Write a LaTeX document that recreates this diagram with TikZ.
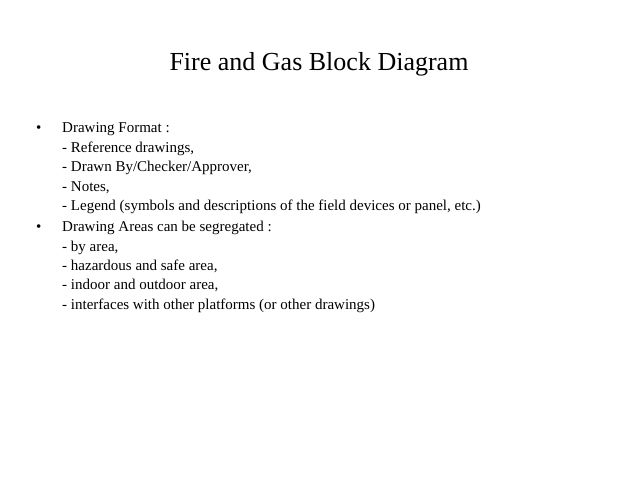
\documentclass[tikz,border=0pt]{standalone}
\usepackage{fontspec}
\setmainfont{Liberation Serif}
\begin{document}
\begin{tikzpicture}[x=1pt,y=-1pt,
  body/.style={anchor=base west,inner sep=0pt,font=\fontsize{15}{18}\selectfont}]
\useasboundingbox (0,0) rectangle (638,478);
\node[anchor=base,inner sep=0pt,font=\fontsize{26}{30}\selectfont] (title) at (319,71) {Fire and Gas Block Diagram};
\node[body] (b1) at (36,133) {•};
\node[body] (l1) at (62,133) {Drawing Format :};
\node[body] (l2) at (62,153) {- Reference drawings,};
\node[body] (l3) at (62,172) {- Drawn By/Checker/Approver,};
\node[body] (l4) at (62,192) {- Notes,};
\node[body] (l5) at (62,211) {- Legend (symbols and descriptions of the field devices or panel, etc.)};
\node[body] (b2) at (36,232) {•};
\node[body] (m1) at (62,232) {Drawing Areas can be segregated :};
\node[body] (m2) at (62,252) {- by area,};
\node[body] (m3) at (62,271) {- hazardous and safe area,};
\node[body] (m4) at (62,290) {- indoor and outdoor area,};
\node[body] (m5) at (62,310) {- interfaces with other platforms (or other drawings)};
\end{tikzpicture}
\end{document}
